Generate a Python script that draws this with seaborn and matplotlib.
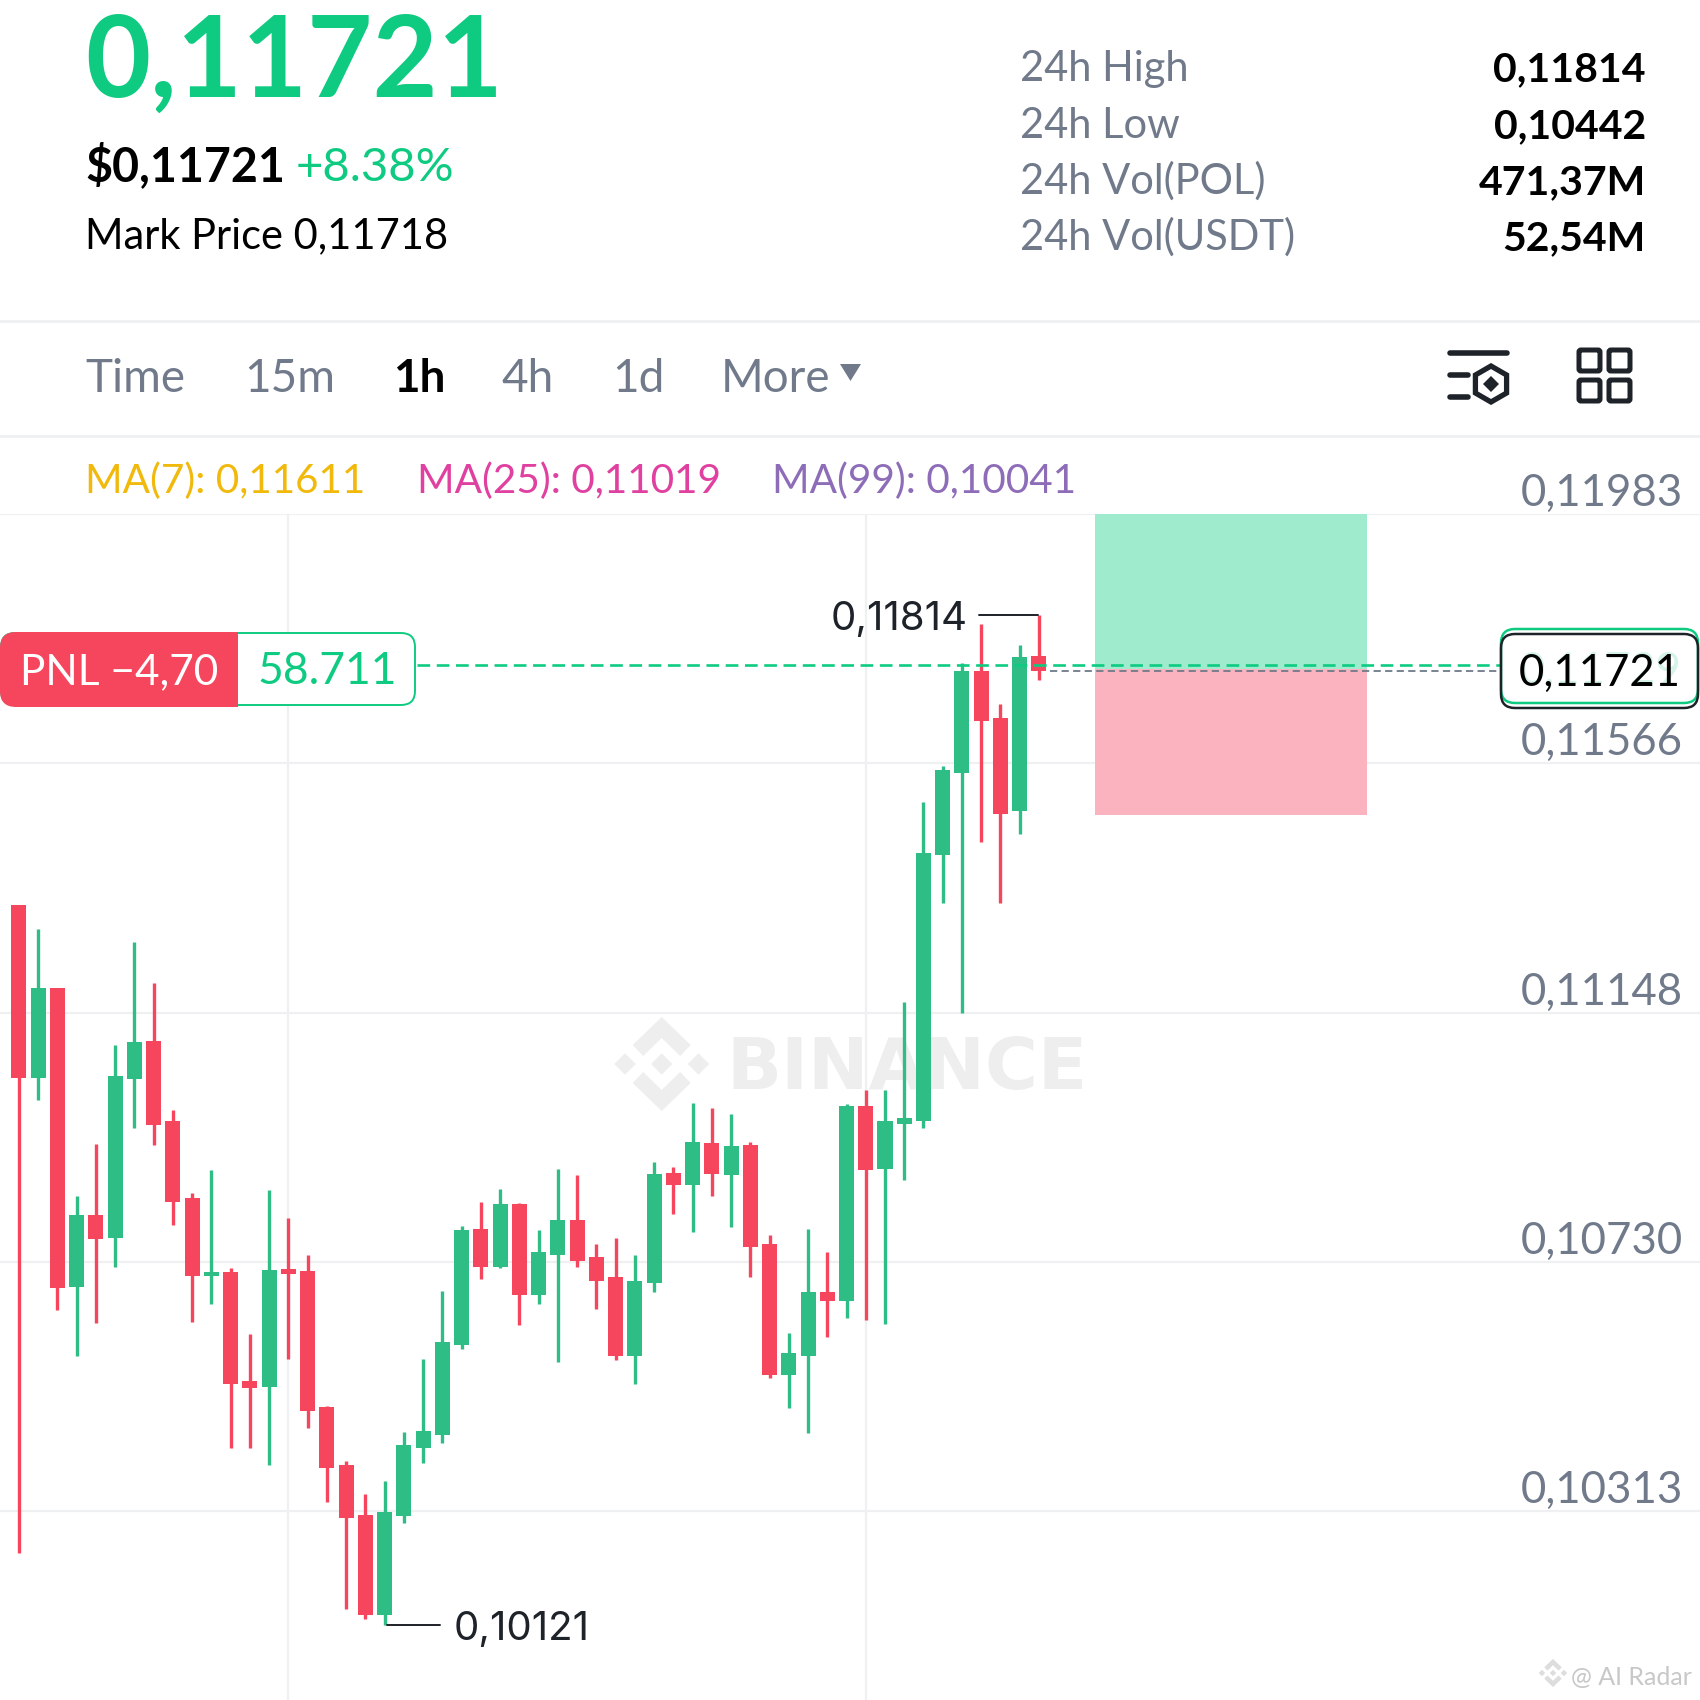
import numpy as np
import pandas as pd
import matplotlib
matplotlib.use("Agg")
import matplotlib.pyplot as plt
from matplotlib.patches import Rectangle, FancyBboxPatch, Polygon, RegularPolygon
import seaborn as sns

sns.set_theme(style="white")
FONT = "Lato"
plt.rcParams["font.family"] = [FONT, "DejaVu Sans"]

# candle values, price * 1e-5
highs = [11328,11288,11190,10841,10928,11094,11266,11198,10985,10845,10884,10720,10609,10850,10803,10741,10489,10397,10341,10363,10445,10567,10682,10791,10831,10853,10829,10783,10886,10876,10760,10771,10742,10897,10889,10996,10988,10978,10931,10776,10611,10785,10747,10995,11018,11018,11166,11501,11561,11734,11799,11665,11764,11814]
tops = [11328,11189,11189,10808,10808,11042,11099,11100,10966,10837,10714,10714,10531,10717,10718,10715,10487,10390,10306,10311,10424,10447,10596,10784,10785,10827,10828,10747,10801,10801,10738,10705,10698,10878,10879,10931,10930,10924,10926,10760,10578,10679,10679,10992,10992,10966,10971,11416,11554,11721,11721,11641,11744,11745]
bottoms = [11038,11038,10687,10688,10769,10771,11037,10959,10831,10706,10706,10526,10519,10520,10710,10481,10385,10301,10138,10138,10305,10418,10440,10591,10721,10722,10675,10674,10742,10731,10698,10573,10573,10694,10859,10859,10878,10876,10755,10541,10541,10573,10665,10665,10884,10886,10961,10966,11412,11549,11637,11481,11485,11721]
lows = [10243,11001,10650,10573,10627,10721,10955,10926,10792,10630,10660,10419,10418,10390,10568,10452,10327,10148,10132,10121,10293,10394,10426,10585,10702,10720,10624,10660,10563,10721,10652,10566,10526,10679,10811,10781,10840,10789,10705,10535,10486,10443,10605,10636,10632,10626,10867,10954,11332,11148,11434,11332,11448,11705]
rising = "RGRGRGGRRRGRRGRRRRRGGGGGRGRGGRRRGGRGRGRRGGRGRGGGGGRRGR"
y_ticks = [0.11983, 0.11566, 0.11148, 0.10730, 0.10313]
y_labels = ["0,11983", "0,11566", "0,11148", "0,10730", "0,10313"]
x_grid = [14, 44]
ma_labels = ["MA(7): 0,11611", "MA(25): 0,11019", "MA(99): 0,10041"]
tabs = ["Time", "15m", "1h", "4h", "1d", "More"]
stat_names = ["24h High", "24h Low", "24h Vol(POL)", "24h Vol(USDT)"]
stat_values = ["0,11814", "0,10442", "471,37M", "52,54M"]
last_price = 0.11721
entry_price = 0.11731
box_top, box_mid, box_bottom = 0.11983, 0.11724, 0.11479

GREEN, RED = "#2EBD85", "#F6465D"
BRIGHT = "#0ECB81"
GRAY = "#707A8A"
DARK = "#1E2329"
GRID = "#EEF0F2"

df = pd.DataFrame({"idx": np.arange(len(highs)), "high": np.array(highs)/1e5, "low": np.array(lows)/1e5,
                   "top": np.array(tops)/1e5, "bottom": np.array(bottoms)/1e5, "dir": list(rising[:len(highs)])})
df["height"] = df["top"] - df["bottom"]

fig = plt.figure(figsize=(17, 17), dpi=100, facecolor="white")
def overlay(z):
    a = fig.add_axes([0, 0, 1, 1], zorder=z, facecolor="none")
    a.set_xlim(0, 1700); a.set_ylim(1700, 0); a.axis("off")
    return a
bg = overlay(0)
top = overlay(3)
ax = fig.add_axes([0, 0, 1, (1700-514.3)/1700], zorder=1, facecolor="none")

def T(a, x, y, s, size, color, weight="normal", ha="left", **kw):
    a.text(x, y, s, fontsize=size, color=color, fontweight=weight, ha=ha, va="baseline", **kw)

def logo(a, cx, cy, k, c):
    def dia(x, y, r):
        a.add_patch(Polygon([(x-r*k, y), (x, y-r*k), (x+r*k, y), (x, y+r*k)], fc=c, ec="none"))
    dia(cx, cy, 10.7); dia(cx-36.7*k, cy, 10.7); dia(cx+36.7*k, cy, 10.7)
    for s in (-1, 1):
        a.add_patch(Polygon([(cx-29*k, cy+s*19*k), (cx, cy+s*47*k), (cx+29*k, cy+s*19*k), (cx+18.5*k, cy+s*8*k),
                             (cx, cy+s*26*k), (cx-18.5*k, cy+s*8*k)], fc=c, ec="none"))

# watermark
WM = "#EEEEEE"
logo(bg, 661.7, 1064, 1, WM)
T(bg, 726, 1089, "BINANCE", 52, WM, "bold", family="DejaVu Sans")
for y in (321, 436):
    bg.plot([0, 1700], [y, y], color=GRID, lw=2)

# candles
for d, col in (("G", GREEN), ("R", RED)):
    sub = df[df["dir"] == d]
    sns.barplot(data=sub, x="idx", y="height", bottom=sub["bottom"].values, native_scale=True,
                color=col, width=0.78, saturation=1, errorbar=None, ax=ax, linewidth=0, zorder=3)
    ax.vlines(sub["idx"], sub["low"], sub["high"], color=col, lw=2.4, zorder=2.5)

ax.set_xlim(-0.987, 87.35)
ax.set_ylim(0.09996, 0.11983)
ax.set_xlabel(""); ax.set_ylabel("")
ax.yaxis.tick_right()
ax.set_yticks(y_ticks, y_labels)
ax.set_xticks(x_grid, ["", ""])
ax.grid(True, color=GRID, lw=1.6)
ax.set_axisbelow(True)
ax.tick_params(axis="y", length=0, pad=-12.5, labelsize=31.5, labelcolor=GRAY)
ax.tick_params(axis="x", length=0)
for l in ax.get_yticklabels():
    l.set_ha("right"); l.set_va("bottom")
for s in ax.spines.values():
    s.set_visible(False)

# risk / reward boxes
ax.add_patch(Rectangle((55.91, box_mid), 14.13, box_top-box_mid, fc="#9FEBCD", ec="none", zorder=1.5))
ax.add_patch(Rectangle((55.91, box_bottom), 14.13, box_mid-box_bottom, fc="#FBB3BF", ec="none", zorder=1.5))

# price lines and annotations
ax.hlines(entry_price, 20.7, 77, color=BRIGHT, lw=1.9, linestyles=(0, (4.8, 2.5)), zorder=4)
ax.hlines(last_price, 53.6, 77, color=GRAY, lw=1.3, linestyles=(0, (4, 2.4)), zorder=3.5)
ax.plot([49.9, 52.97], [0.11814, 0.11814], color=DARK, lw=1.4, zorder=4)
ax.plot([19.1, 21.9], [0.10121, 0.10121], color=DARK, lw=1.4, zorder=4)
ax.text(49.3, 0.11814, "0,11814", fontsize=29, family="Inter", color=DARK, ha="right", va="center_baseline", zorder=5)
ax.text(22.6, 0.10121, "0,10121", fontsize=29, family="Inter", color=DARK, ha="left", va="center_baseline", zorder=5)

# header
T(top, 85, 97, "0,11721", 81, BRIGHT, "bold")
T(top, 85, 181, "$0,11721", 33.5, "black", "bold")
T(top, 296, 181, "+8.38%", 34, BRIGHT)
T(top, 85, 248, "Mark Price 0,11718", 30, "black")
for name, val, y in zip(stat_names, stat_values, (81, 138, 194, 250)):
    T(top, 1020, y, name, 30, GRAY)
    T(top, 1646, y, val, 29.5, "black", "bold", ha="right")
for s, x in zip(tabs, (85, 244, 393, 501, 612, 721)):
    sel = s == "1h"
    T(top, x, 392, s, 33, "black" if sel else GRAY, "bold" if sel else "normal")
top.add_patch(Polygon([(840, 364), (861, 364), (850.5, 381)], fc=GRAY, ec="none", joinstyle="round"))
for s, x, c in zip(ma_labels, (85, 417, 772), ("#F0B90B", "#E040A0", "#8E6DB8")):
    T(top, x, 493, s, 29.2, c)

# icons
for xs, y in (((1450, 1507), 353), ((1450, 1468), 375), ((1450, 1468), 397)):
    top.plot(xs, [y, y], color=DARK, lw=4, solid_capstyle="round")
top.add_patch(RegularPolygon((1491, 384), 6, radius=18, fc="none", ec=DARK, lw=3.8))
top.add_patch(Polygon([(1491, 376), (1499, 384), (1491, 392), (1483, 384)], fc=DARK, ec="none"))
for x in (1579, 1609):
    for y in (350, 380):
        top.add_patch(FancyBboxPatch((x, y), 21, 21, boxstyle="round,pad=0,rounding_size=2", fc="none", ec=DARK, lw=3.6))

# PNL tag
top.add_patch(FancyBboxPatch((1, 633), 414, 72, boxstyle="round,pad=0,rounding_size=14", fc="white", ec=BRIGHT, lw=1.4))
top.add_patch(FancyBboxPatch((0, 632), 238, 75, boxstyle="round,pad=0,rounding_size=16", fc=RED, ec="none"))
top.add_patch(Rectangle((220, 632), 18, 75, fc=RED, ec="none"))
T(top, 20, 684, "PNL −4,70", 30.5, "white")
T(top, 257, 684, "58.711", 32, BRIGHT)

# price tags
top.add_patch(FancyBboxPatch((1501, 629), 197, 74, boxstyle="round,pad=0,rounding_size=14", fc="white", ec=BRIGHT, lw=1.8))
T(top, 1682, 684, "0,11729", 31.5, "#D5F3E7", ha="right")
top.add_patch(FancyBboxPatch((1501, 634), 197, 74, boxstyle="round,pad=0,rounding_size=14", fc="none", ec=DARK, lw=1.8))
T(top, 1681, 686, "0,11721", 31.5, "black", ha="right")

# credit
T(top, 1692, 1685, "@ AI Radar", 18, "#C8C8C8", ha="right")
logo(top, 1553, 1673, 0.3, "#DDDDDD")

fig.savefig("out.png", dpi=100, facecolor="white")
